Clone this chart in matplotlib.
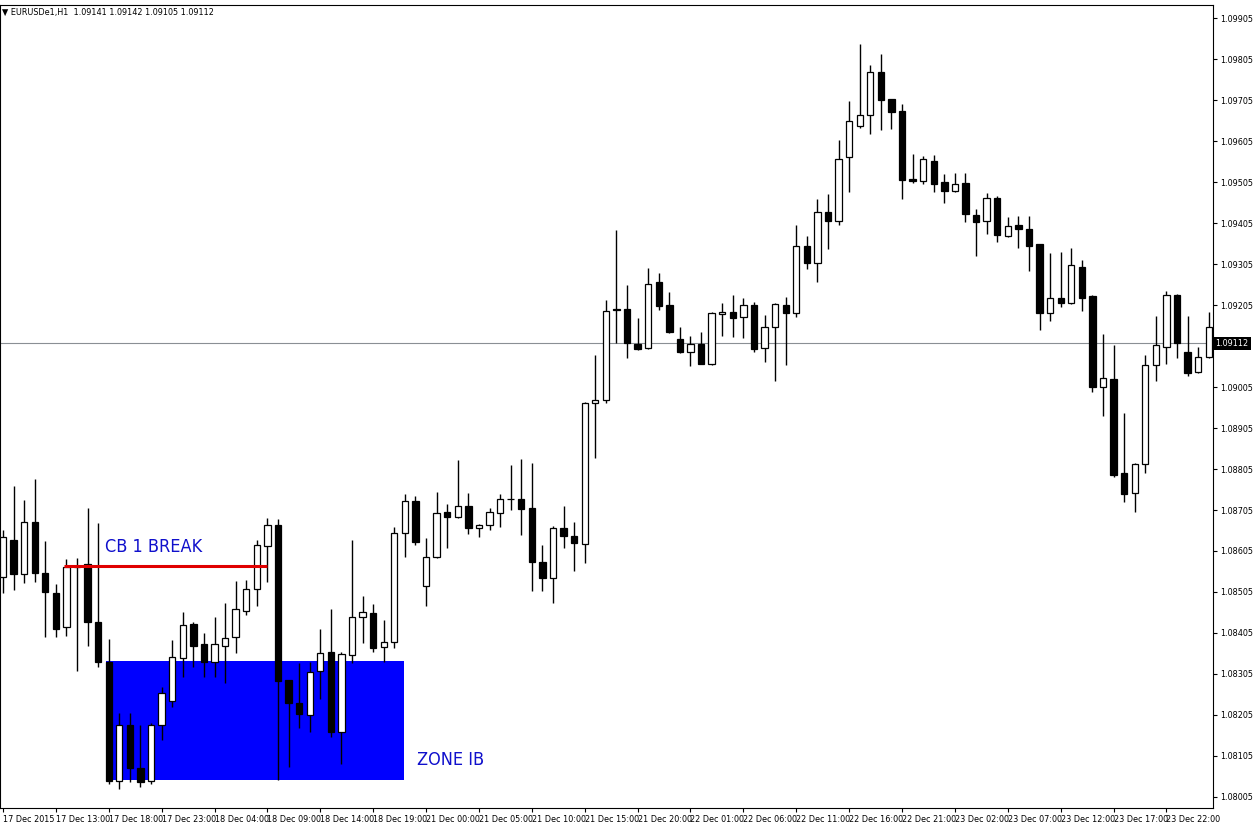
import matplotlib
matplotlib.use("Agg")
import matplotlib.pyplot as plt
from matplotlib.patches import Rectangle

plt.rcParams['font.family'] = ['DejaVu Sans']
plt.rcParams['font.stretch'] = 'condensed'

# EURUSD H1 candles, 17 Dec 2015 08:00 onward (prices)
opens = [1.08541, 1.08631, 1.08548, 1.08675, 1.08551, 1.08502, 1.08419, 1.08566, 1.08573, 1.08431,
         1.08334, 1.08043, 1.08180, 1.08075, 1.08043, 1.08180, 1.08239, 1.08343, 1.08426, 1.08378,
         1.08334, 1.08373, 1.08395, 1.08458, 1.08512, 1.08617, 1.08668, 1.08290, 1.08234, 1.08204,
         1.08312, 1.08358, 1.08163, 1.08351, 1.08444, 1.08453, 1.08370, 1.08383, 1.08648, 1.08727,
         1.08519, 1.08590, 1.08700, 1.08688, 1.08714, 1.08661, 1.08668, 1.08697, 1.08731, 1.08731,
         1.08709, 1.08578, 1.08539, 1.08661, 1.08641, 1.08622, 1.08966, 1.08973, 1.09195, 1.09195,
         1.09110, 1.09100, 1.09261, 1.09205, 1.09122, 1.09090, 1.09110, 1.09061, 1.09183, 1.09188,
         1.09175, 1.09205, 1.09100, 1.09151, 1.09205, 1.09185, 1.09349, 1.09307, 1.09432, 1.09410,
         1.09566, 1.09642, 1.09668, 1.09773, 1.09707, 1.09678, 1.09512, 1.09507, 1.09556, 1.09505,
         1.09483, 1.09502, 1.09424, 1.09410, 1.09466, 1.09373, 1.09400, 1.09390, 1.09354, 1.09185,
         1.09222, 1.09210, 1.09297, 1.09227, 1.09005, 1.09024, 1.08795, 1.08746, 1.08817, 1.09058,
         1.09102, 1.09229, 1.09090, 1.09041, 1.09078]
highs = [1.08656, 1.08763, 1.08729, 1.08780, 1.08629, 1.08524, 1.08585, 1.08588, 1.08709, 1.08673,
         1.08390, 1.08209, 1.08209, 1.08180, 1.08185, 1.08273, 1.08387, 1.08456, 1.08431, 1.08404,
         1.08444, 1.08478, 1.08531, 1.08534, 1.08631, 1.08685, 1.08683, 1.08290, 1.08331, 1.08334,
         1.08414, 1.08463, 1.08358, 1.08631, 1.08495, 1.08475, 1.08436, 1.08663, 1.08744, 1.08739,
         1.08636, 1.08749, 1.08719, 1.08827, 1.08746, 1.08670, 1.08709, 1.08744, 1.08814, 1.08829,
         1.08819, 1.08619, 1.08666, 1.08714, 1.08675, 1.08968, 1.09083, 1.09217, 1.09388, 1.09254,
         1.09173, 1.09295, 1.09283, 1.09237, 1.09151, 1.09129, 1.09139, 1.09188, 1.09210, 1.09229,
         1.09222, 1.09212, 1.09180, 1.09210, 1.09224, 1.09400, 1.09373, 1.09463, 1.09476, 1.09607,
         1.09703, 1.09842, 1.09790, 1.09817, 1.09707, 1.09695, 1.09573, 1.09568, 1.09571, 1.09524,
         1.09527, 1.09527, 1.09439, 1.09478, 1.09471, 1.09419, 1.09422, 1.09422, 1.09354, 1.09332,
         1.09334, 1.09344, 1.09315, 1.09229, 1.09134, 1.09107, 1.08941, 1.08819, 1.09083, 1.09178,
         1.09239, 1.09232, 1.09178, 1.09102, 1.09188]
lows = [1.08502, 1.08509, 1.08526, 1.08529, 1.08395, 1.08395, 1.08397, 1.08312, 1.08373, 1.08322,
        1.08036, 1.08024, 1.08041, 1.08029, 1.08036, 1.08143, 1.08224, 1.08297, 1.08322, 1.08297,
        1.08297, 1.08282, 1.08356, 1.08448, 1.08470, 1.08529, 1.08046, 1.08078, 1.08173, 1.08163,
        1.08243, 1.08151, 1.08085, 1.08331, 1.08380, 1.08358, 1.08334, 1.08368, 1.08590, 1.08619,
        1.08470, 1.08588, 1.08612, 1.08685, 1.08646, 1.08639, 1.08656, 1.08663, 1.08705, 1.08644,
        1.08507, 1.08507, 1.08478, 1.08612, 1.08556, 1.08575, 1.08831, 1.08966, 1.09112, 1.09075,
        1.09095, 1.09098, 1.09192, 1.09136, 1.09088, 1.09056, 1.09060, 1.09058, 1.09129, 1.09127,
        1.09124, 1.09090, 1.09066, 1.09019, 1.09058, 1.09175, 1.09293, 1.09261, 1.09341, 1.09400,
        1.09480, 1.09637, 1.09622, 1.09632, 1.09634, 1.09463, 1.09502, 1.09500, 1.09480, 1.09454,
        1.09480, 1.09407, 1.09324, 1.09378, 1.09358, 1.09370, 1.09344, 1.09288, 1.09144, 1.09166,
        1.09200, 1.09208, 1.09190, 1.08992, 1.08934, 1.08785, 1.08724, 1.08700, 1.08795, 1.09019,
        1.09061, 1.09075, 1.09032, 1.09039, 1.09075]
closes = [1.08639, 1.08548, 1.08675, 1.08551, 1.08505, 1.08414, 1.08566, 1.08568, 1.08431, 1.08334,
          1.08043, 1.08180, 1.08075, 1.08041, 1.08180, 1.08258, 1.08346, 1.08424, 1.08373, 1.08334,
          1.08378, 1.08392, 1.08463, 1.08512, 1.08619, 1.08668, 1.08287, 1.08234, 1.08207, 1.08309,
          1.08356, 1.08163, 1.08353, 1.08444, 1.08456, 1.08368, 1.08383, 1.08648, 1.08727, 1.08627,
          1.08590, 1.08697, 1.08688, 1.08714, 1.08661, 1.08668, 1.08700, 1.08731, 1.08733, 1.08707,
          1.08578, 1.08539, 1.08661, 1.08641, 1.08624, 1.08966, 1.08973, 1.09190, 1.09192, 1.09112,
          1.09097, 1.09256, 1.09202, 1.09139, 1.09090, 1.09110, 1.09061, 1.09185, 1.09188, 1.09173,
          1.09205, 1.09097, 1.09151, 1.09207, 1.09185, 1.09349, 1.09307, 1.09432, 1.09410, 1.09561,
          1.09654, 1.09668, 1.09773, 1.09705, 1.09676, 1.09510, 1.09507, 1.09561, 1.09500, 1.09483,
          1.09500, 1.09427, 1.09407, 1.09466, 1.09376, 1.09398, 1.09390, 1.09349, 1.09185, 1.09222,
          1.09210, 1.09302, 1.09222, 1.09005, 1.09027, 1.08790, 1.08744, 1.08817, 1.09058, 1.09107,
          1.09229, 1.09112, 1.09039, 1.09078, 1.09151]

tick_labels = ["17 Dec 2015", "17 Dec 13:00", "17 Dec 18:00", "17 Dec 23:00", "18 Dec 04:00",
               "18 Dec 09:00", "18 Dec 14:00", "18 Dec 19:00", "21 Dec 00:00", "21 Dec 05:00",
               "21 Dec 10:00", "21 Dec 15:00", "21 Dec 20:00", "22 Dec 01:00", "22 Dec 06:00",
               "22 Dec 11:00", "22 Dec 16:00", "22 Dec 21:00", "23 Dec 02:00", "23 Dec 07:00",
               "23 Dec 12:00", "23 Dec 17:00", "23 Dec 22:00"]
price_ticks = [1.08005, 1.08105, 1.08205, 1.08305, 1.08405, 1.08505, 1.08605, 1.08705, 1.08805,
               1.08905, 1.09005, 1.09205, 1.09305, 1.09405, 1.09505, 1.09605, 1.09705,
               1.09805, 1.09905]
last_price = 1.09112
break_level = 1.08568
zone_top, zone_bottom = 1.08337, 1.08047

fig = plt.figure(figsize=(12.54, 8.32), dpi=100)
ax = fig.add_axes([0.0, 1 - 808 / 832, 1213 / 1254, 803 / 832])

# zone box behind the candles
ax.add_patch(Rectangle((9.72, zone_bottom), 37.9 - 9.72, zone_top - zone_bottom,
                       facecolor="#0000ff", edgecolor="none", zorder=1))
ax.text(39.1, 1.08095, "ZONE IB", color="#1010cc", fontsize=13, va="center")

ax.axhline(last_price, color="#8a8f94", lw=0.8, zorder=0)

w = 0.6
for i in range(len(opens)):
    o, h, l, c = opens[i], highs[i], lows[i], closes[i]
    ax.vlines(i, l, h, color="black", lw=1, zorder=2)
    lo, hi = min(o, c), max(o, c)
    face = "white" if c >= o else "black"
    ax.add_patch(Rectangle((i - w / 2, lo), w, max(hi - lo, 0.000015),
                           facecolor=face, edgecolor="black", lw=0.9, zorder=3))

ax.hlines(break_level, 5.8, 25, color="#e00000", lw=2.2, zorder=4)
ax.text(9.6, 1.08615, "CB 1 BREAK", color="#1010cc", fontsize=13, va="center")

ax.set_xlim(-0.28, 114.4)
ax.set_ylim(1.07978, 1.09937)

ax.yaxis.tick_right()
ax.set_yticks(price_ticks)
ax.set_yticklabels([f"{p:.5f}" for p in price_ticks], fontsize=6.5)
ax.set_xticks(range(0, 5 * len(tick_labels), 5))
ax.set_xticklabels(tick_labels, fontsize=6.5, ha="left")
ax.tick_params(length=3, width=0.8, pad=2)
for s in ax.spines.values():
    s.set_color("black")
    s.set_linewidth(0.8)

ax.text(1.002, last_price, f"{last_price:.5f}", transform=ax.get_yaxis_transform(),
        fontsize=6.5, color="white", va="center", ha="left",
        bbox=dict(facecolor="black", edgecolor="none", pad=1.5))
ax.text(0.002, 0.997, "\u25bc EURUSDe1,H1  1.09141 1.09142 1.09105 1.09112",
        transform=ax.transAxes, fontsize=6.5, va="top", ha="left")

fig.savefig("out.png", dpi=100)
